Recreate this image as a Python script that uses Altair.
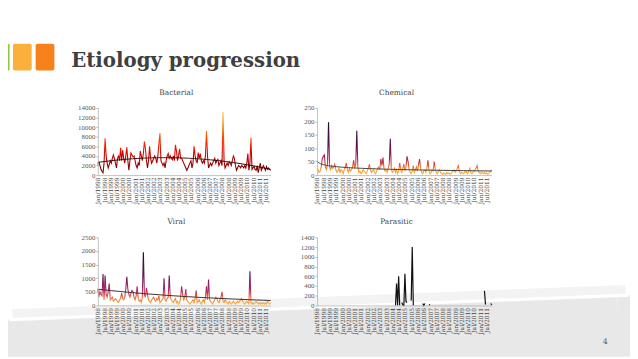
import altair as alt
import pandas as pd

N = None

tick_labels = [
    "Jan/1998", "Jul/1998", "Jan/1999", "Jul/1999", "Jan/2000", "Jul/2000", "Jan/2001",
    "Jul/2001", "Jan/2002", "Jul/2002", "Jan/2003", "Jul/2003", "Jan/2004", "Jul/2004",
    "Jan/2005", "Jul/2005", "Jan/2006", "Jul/2006", "Jan/2007", "Jul/2007", "Jan/2008",
    "Jul/2008", "Jan/2009", "Jul/2009", "Jan/2010", "Jul/2010", "Jan/2011", "Jul/2011",
]

bacterial = [
    2200, 2700, 2000, 1200, 800, 500, 2500, 7700, 4000, 2500, 1500, 2200,
    3000, 2500, 3500, 4200, 3500, 2500, 1500, 3500, 4000, 3000, 5700, 3000,
    5200, 3500, 2500, 4000, 5800, 3000, 1000, 3000, 4600, 4200, 3800, 4000,
    3000, 2000, 1500, 2500, 2000, 5000, 4000, 3000, 4500, 7000, 5500, 3000,
    1500, 3000, 6000, 3500, 2500, 3000, 3500, 4000, 3500, 2500, 4000, 6500,
    8700, 3000, 2500, 2000, 2500, 1500, 3000, 4000, 4500, 3500, 4000, 3500,
    3200, 4000, 3000, 6300, 5000, 3000, 4000, 5500, 3500, 3500, 3000, 2500,
    2000, 1500, 1000, 1500, 2000, 2500, 3000, 1500, 2500, 6000, 4000, 3000,
    2500, 4700, 3500, 4500, 3000, 2500, 3000, 2500, 4000, 9200, 4000, 1500,
    2000, 2500, 2000, 2500, 3000, 3500, 2500, 3000, 3300, 2000, 2500, 3000,
    2000, 13200, 3000, 1500, 2000, 2500, 2000, 2800, 2500, 2000, 3000, 4000,
    3500, 2000, 1000, 1500, 2000, 1800, 1500, 2000, 1800, 1500, 2000, 1500,
    2500, 4500, 1000, 2500, 7800, 1200, 1500, 1800, 1200, 1000, 2000, 500,
    1500, 2500, 1000, 1500, 2000, 1500, 1000, 1800, 1200, 1500, 1200, 1000,
]

chemical = [
    25, 20, 10, 15, 30, 60, 70, 75, 30, 20, 40, 197,
    30, 20, 35, 25, 30, 40, 20, 10, 15, 25, 10, 20,
    15, 5, 20, 30, 45, 20, 10, 25, 15, 20, 30, 55,
    25, 40, 165, 30, 10, 15, 5, 10, 20, 15, 10, 5,
    15, 25, 40, 20, 10, 15, 20, 10, 5, 15, 25, 30,
    20, 60, 35, 65, 25, 15, 20, 10, 25, 40, 135, 20,
    10, 15, 25, 10, 20, 5, 15, 45, 20, 10, 25, 40,
    15, 30, 70, 50, 20, 10, 5, 15, 35, 10, 20, 30,
    15, 40, 60, 25, 10, 5, 15, 20, 10, 25, 55, 15,
    5, 10, 20, 15, 50, 20, 10, 5, 15, 20, 10, 5,
    3, 8, 5, 3, 10, 5, 8, 3, 5, 10, 15, 20,
    10, 15, 25, 35, 15, 5, 10, 8, 5, 10, 15, 10,
    5, 15, 25, 10, 5, 10, 15, 20, 25, 35, 15, 10,
    5, 10, 8, 5, 10, 5, 8, 3, 5, 10, 15, 20,
]

viral = [
    600, 300, 500, 400, 350, 1150, 200, 1100, 400, 300, 500, 800,
    200, 250, 300, 150, 200, 250, 200, 150, 100, 200, 250, 450,
    250, 200, 300, 600, 1050, 600, 400, 300, 450, 550, 500, 300,
    200, 350, 700, 250, 150, 200, 100, 300, 1950, 400, 300, 650,
    400, 200, 150, 100, 200, 250, 300, 200, 150, 250, 200, 350,
    100, 150, 200, 250, 1000, 200, 150, 250, 300, 1100, 300, 200,
    150, 100, 200, 250, 100, 150, 50, 100, 300, 700, 400, 200,
    300, 600, 200, 150, 100, 50, 100, 150, 200, 100, 250, 550,
    100, 150, 200, 100, 50, 150, 200, 100, 300, 700, 200, 950,
    200, 150, 100, 50, 150, 200, 300, 250, 150, 100, 200, 300,
    500, 150, 100, 200, 150, 100, 50, 150, 100, 50, 100, 150,
    100, 50, 100, 150, 100, 150, 200, 250, 150, 100, 50, 100,
    150, 100, 50, 1250, 100, 50, 100, 50, 100, 150, 100, 50,
    100, 50, 100, 50, 100, 50, 100, 50, 150, 100, 50, 100,
]

parasitic = [
    N, N, N, N, N, N, N, N, N, N, N, N,
    N, N, N, N, N, N, N, N, N, N, N, N,
    N, N, N, N, N, N, N, N, N, N, N, N,
    N, N, N, N, N, N, N, N, N, N, N, N,
    N, N, N, N, N, N, N, N, N, N, N, N,
    N, N, N, N, N, N, N, N, N, N, N, N,
    N, N, N, 0, 450, 0, 600, 0, N, 60, 10, 0,
    650, 80, 60, N, N, N, 100, 1200, 0, N, N, N,
    N, N, N, N, N, 40, 0, 40, N, N, N, 20,
    10, N, N, N, N, N, N, N, N, N, N, N,
    N, N, N, N, N, N, N, N, N, N, N, N,
    N, N, N, N, N, N, N, N, N, N, N, N,
    N, N, N, N, N, N, N, N, N, N, N, N,
    N, N, N, N, 300, 20, N, N, N, N, 40, 10,
]

idx = list(range(len(bacterial)))

FONT = "DejaVu Serif"
NUM_FONT = "Liberation Serif"
AXIS_GREY = "#b3b3b3"

label_expr = "[" + ",".join("'%s'" % t for t in tick_labels) + "][round(datum.value / 6)]"
tick_vals = [6 * k for k in range(len(tick_labels))]


def x_enc():
    return alt.X(
        "i:Q", title=None,
        scale=alt.Scale(domain=[0, len(idx) - 1], nice=False, zero=False),
        axis=alt.Axis(orient="bottom", values=tick_vals, labelExpr=label_expr, labelAngle=-90,
                      labelFont=FONT, labelFontSize=6, labelColor="#404040", labelPadding=2,
                      labelOverlap=False, labelFlush=False, ticks=False, domainColor=AXIS_GREY,
                      domainWidth=0.8, grid=False, zindex=1),
    )


def y_enc(ymax, step):
    return alt.Y(
        "v:Q", title=None,
        scale=alt.Scale(domain=[0, ymax], nice=False, zero=True),
        axis=alt.Axis(orient="left", values=list(range(0, ymax + 1, step)), format="d",
                      labelFont=NUM_FONT, labelFontSize=7, labelColor="#595959", labelPadding=1,
                      tickSize=2, tickColor=AXIS_GREY, domainColor=AXIS_GREY, domainWidth=0.8,
                      grid=False, zindex=1),
    )


def grad(stops):
    return alt.LinearGradient(
        gradient="linear", x1=0, x2=0, y1=1, y2=0,
        stops=[alt.GradientStop(offset=o, color=c) for o, c in stops],
    )


one = pd.DataFrame({"a": [1]})


def box(x, x2, y, y2, color, r=0):
    return alt.Chart(one).mark_rect(color=color, cornerRadius=r).encode(
        x=alt.value(x), x2=alt.value(x2), y=alt.value(y), y2=alt.value(y2))


def seg(x, y, x2, y2, color, w):
    return alt.Chart(one).mark_rule(color=color, strokeWidth=w, strokeCap="butt").encode(
        x=alt.value(x), y=alt.value(y), x2=alt.value(x2), y2=alt.value(y2))


def label(text, x, y, size=7.5, weight="normal", color="#404040", align="center",
          baseline="middle"):
    return alt.Chart(one).mark_text(text=text, font=FONT, fontSize=size, fontWeight=weight,
                                    color=color, align=align, baseline=baseline).encode(
        x=alt.value(x), y=alt.value(y))


# slide decorations, placed relative to the Bacterial panel's plot origin
decor = [
    box(-91, 539, -99, 252, "white"),
    seg(-86.5, 208.3, 534.5, 183.7, "#f3f3f3", 9),
    box(-91, 539, 214.5, 252, "#e8e8e8"),
    box(526, 539, 189.5, 216, "#e8e8e8"),
    seg(-78, 227.0, 526, 203.0, "#e8e8e8", 26),
    seg(-89.5, 214.4, 537.5, 189.6, "white", 3),
    box(-91, -89.5, -65, -38, "#8cc63f", 2),
    box(-86, -67, -65, -38, "#fbb03b", 2),
    box(-63, -44, -65, -38, "#f7821b", 2),
    label("Etiology progression", -27, -42, size=20, weight="bold", color="#3f3f3f",
          align="left", baseline="alphabetic"),
    label("4", 514, 237, size=8, color="#595959"),
]


def panel(values, name, ymax, step, stroke, w, h, trend=None, extra=()):
    df = pd.DataFrame({"i": idx, "v": values})
    base = alt.Chart(df)
    line = base.mark_line(stroke=stroke, strokeWidth=1.1).encode(
        x=x_enc(), y=y_enc(ymax, step))
    layers = list(extra) + [label(name, w / 2 - 8, -15), line]
    if trend is not None:
        method, color, order = trend
        kw = {"method": method}
        if order:
            kw["order"] = order
        t = (base.transform_calculate(i1="datum.i + 1")
             .transform_regression("i1", "v", **kw)
             .transform_calculate(i="datum.i1 - 1")
             .mark_line(color=color, strokeWidth=1)
             .encode(x=x_enc(), y=y_enc(ymax, step)))
        layers.append(t)
    return alt.layer(*layers).properties(width=w, height=h)


bact_grad = grad([(0, "#6b0000"), (0.15, "#a00000"), (0.3, "#d00000"),
                  (0.5, "#ff2a00"), (0.7, "#ff7a00"), (1, "#ffc83c")])
chem_grad = grad([(0, "#fbb03b"), (0.1, "#f39230"), (0.2, "#d8433e"),
                  (0.32, "#a01f5a"), (0.55, "#5c1456"), (1, "#1e0a28")])
vir_grad = grad([(0, "#fbb03b"), (0.08, "#f28a30"), (0.18, "#d8434a"),
                 (0.3, "#a8286a"), (0.5, "#6a1a5a"), (1, "#1a0a20")])

b = panel(bacterial, "Bacterial", 14000, 2000, bact_grad, 175, 68,
          trend=("poly", "#3a0a0a", 2), extra=decor)
c = panel(chemical, "Chemical", 250, 50, chem_grad, 177, 68,
          trend=("log", "#404040", None))
v = panel(viral, "Viral", 2500, 500, vir_grad, 175, 69,
          trend=("exp", "#3a3030", None))

# parasitic: only the reported stretches, split where there is no value
p_rows = []
seg_id = 0
prev = None
for i, val in zip(idx, parasitic):
    if val is None:
        if prev is not None:
            seg_id += 1
    else:
        p_rows.append({"i": i, "v": val, "seg": seg_id})
    prev = val
pdf = pd.DataFrame(p_rows)
p_line = alt.Chart(pdf).mark_line(color="#111111", strokeWidth=1.2).encode(
    x=x_enc(), y=y_enc(1400, 200), detail="seg:N")
p = alt.layer(label("Parasitic", 177 / 2 - 8, -15), p_line).properties(width=177, height=69)

chart = alt.concat(b, c, v, p, columns=2).properties(
    spacing={"row": 63, "column": 47}, bounds="flush", padding=0, background="white"
).configure_view(stroke=None)

chart.save("out.html", embed_options={"renderer": "svg", "actions": False})
